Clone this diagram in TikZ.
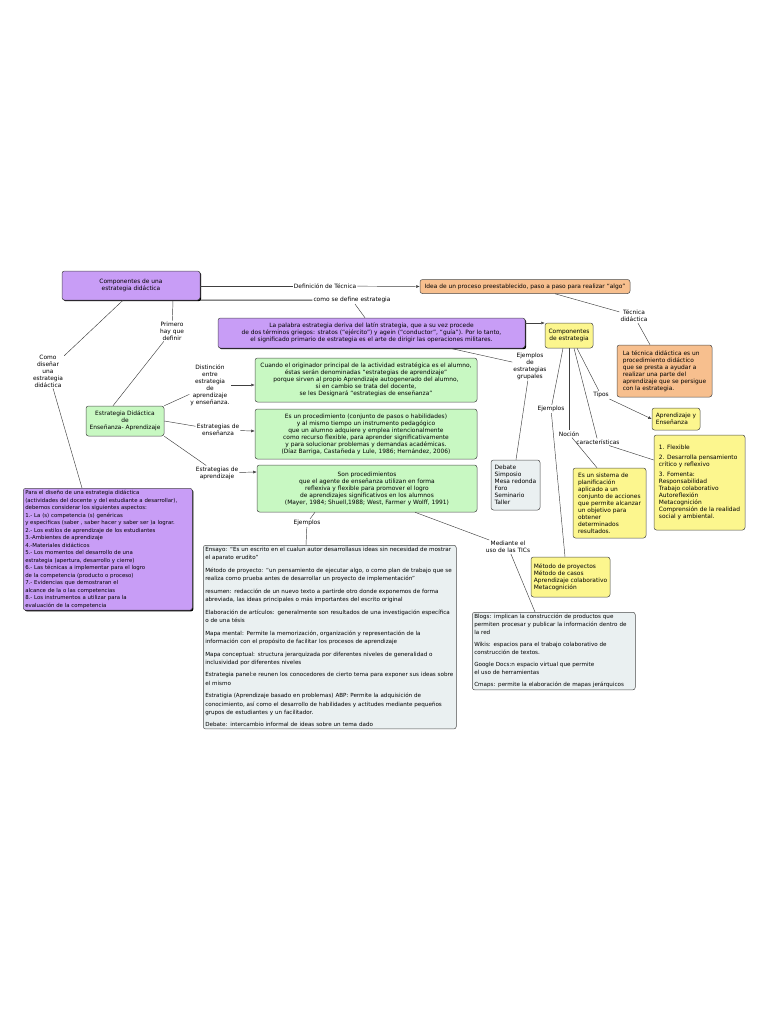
\documentclass[tikz,border=0pt]{standalone}
\usepackage{fontspec}
\setmainfont{DejaVu Sans}
\usetikzlibrary{arrows.meta,shadows}
\definecolor{cpur}{HTML}{C89DF6}
\definecolor{cgrn}{HTML}{C8F8C2}
\definecolor{cyel}{HTML}{FCF68E}
\definecolor{cora}{HTML}{F7BF8E}
\definecolor{cgry}{HTML}{EAF0F1}
\hyphenpenalty=10000 \exhyphenpenalty=10000
\begin{document}
\begin{tikzpicture}[x=1pt,y=-1pt,
  every node/.style={font=\fontsize{5.9}{7}\selectfont, inner sep=1pt},
  box/.style={draw=black!70, rounded corners=2.5pt, line width=0.5pt, align=center, inner sep=2pt},
  pur/.style={box, fill=cpur, drop shadow={shadow xshift=1.2pt,shadow yshift=-1.2pt,opacity=1,fill=black}},
  grn/.style={box, fill=cgrn},
  yel/.style={box, fill=cyel},
  ora/.style={box, fill=cora},
  gry/.style={box, fill=cgry},
  lab/.style={align=center, fill=white},
  ln/.style={draw=black!75, line width=0.45pt},
  ar/.style={ln, -{Latex[length=3.5pt,width=3pt]}}]
\useasboundingbox (0,0) rectangle (768,1024);

% nodes
\node[pur, minimum width=138pt, minimum height=29pt] (comp) at (131,285.5) {Componentes de una\\estrategia didáctica};
\node[ora, minimum width=210pt, minimum height=14pt] (idea) at (525,286.5) {Idea de un proceso preestablecido, paso a paso para realizar “algo”};
\node[lab] (deft) at (325,286) {Definición de Técnica};
\node[lab] (cdef) at (352,300) {como se define estrategia};
\node[pur, minimum width=307pt, minimum height=30pt] (pal) at (371.5,333) {La palabra estrategia deriva del latín strategia, que a su vez procede\\de dos términos griegos: stratos (“ejército”) y agein (“conductor”, “guía”). Por lo tanto,\\el significado primario de estrategia es el arte de dirigir las operaciones militares.};
\node[yel, minimum width=48pt, minimum height=25pt] (cest) at (569,335.5) {Componentes\\de estrategia};
\node[lab] (tecd) at (634,316) {Técnica\\didáctica};
\node[ora, minimum width=95pt, minimum height=52pt, align=left] (tdbox) at (664.5,371) {La técnica didáctica es un\\procedimiento didáctico\\que se presta a ayudar a\\realizar una parte del\\aprendizaje que se persigue\\ con la estrategia.};
\node[lab] (prim) at (172,331) {Primero\\hay que\\definir};
\node[lab] (como) at (48,371) {Como\\diseñar\\una\\estrategia\\didáctica};
\node[grn, minimum width=78pt, minimum height=30pt] (edid) at (125,421) {Estrategia Didáctica\\de\\Enseñanza- Aprendizaje};
\node[lab] (dist) at (210,385) {Distinción\\entre\\estrategia\\de\\aprendizaje\\y enseñanza.};
\node[grn, minimum width=222pt, minimum height=44pt] (g1) at (366,380) {Cuando el originador principal de la actividad estratégica es el alumno,\\éstas serán denominadas “estrategias de aprendizaje”\\porque sirven al propio Aprendizaje autogenerado del alumno,\\si en cambio se trata del docente,\\se les Designará “estrategias de enseñanza”};
\node[lab] (eens) at (218,430) {Estrategias de\\enseñanza};
\node[grn, minimum width=222pt, minimum height=50pt] (g2) at (366,434) {Es un procedimiento (conjunto de pasos o habilidades)\\y al mismo tiempo un instrumento pedagógico\\que un alumno adquiere y emplea intencionalmente\\como recurso flexible, para aprender significativamente\\y para solucionar problemas y demandas académicas.\\(Díaz Barriga, Castañeda y Lule, 1986; Hernández, 2006)};
\node[lab] (eapr) at (217,473) {Estrategias de\\aprendizaje};
\node[grn, minimum width=220pt, minimum height=47pt] (g3) at (367,488.5) {Son procedimientos\\que  el agente de enseñanza utilizan en forma\\reflexiva y flexible para promover el logro\\de aprendizajes significativos en los alumnos\\(Mayer, 1984; Shuell,1988; West, Farmer y Wolff, 1991)};
\node[pur, text width=165pt, align=left, anchor=north west, font=\fontsize{5.4}{7.5}\selectfont] (lista) at (23,488) {Para el diseño de una estrategia didáctica\\(actividades del docente y del estudiante a desarrollar),\\ debemos considerar los siguientes aspectos:\\1.- La (s)  competencia  (s)  genéricas\\ y especificas (saber , saber hacer y saber ser )a lograr.\\2.- Los estilos de aprendizaje de los estudiantes\\3.-Ambientes de aprendizaje\\4.-Materiales didácticos\\5.- Los momentos del desarrollo de una\\ estrategia (apertura, desarrollo y cierre)\\6.- Las técnicas a implementar para el logro\\de la competencia (producto o proceso)\\7.- Evidencias que demostraran el\\alcance de la o las competencias\\8.- Los instrumentos  a utilizar  para la\\evaluación de la competencia};
\node[lab] (ejm) at (307,523) {Ejemplos};
\node[gry, anchor=north west, text width=249pt, align=left, font=\fontsize{5.6}{8.2}\selectfont] (gbox) at (203,545) {Ensayo: “Es un escrito en el cualun autor desarrollasus ideas sin necesidad de mostrar el aparato erudito”\\[4.5pt]
Método de proyecto: “un pensamiento de ejecutar algo, o como  plan de trabajo que se realiza como prueba antes de desarrollar un proyecto de implementación”\\[4.5pt]
resumen: redacción de un nuevo texto a partirde otro donde exponemos de forma abreviada, las ideas principales o más importantes del escrito original\\[4.5pt]
Elaboración de artículos: generalmente son resultados de una investigación específica o de una tésis\\[4.5pt]
Mapa mental: Permite la memorización, organización y representación de la información con el propósito de facilitar los procesos de aprendizaje\\[4.5pt]
Mapa conceptual:  structura jerarquizada por diferentes niveles de generalidad o inclusividad por diferentes niveles\\[4.5pt]
Estrategia panel:e reunen los conocedores de cierto tema para exponer sus ideas sobre el mismo\\[4.5pt]
Estratigia (Aprendizaje basado en problemas) ABP: Permite la adquisición de conocimiento, así como el desarrollo de habilidades y actitudes mediante pequeños grupos de estudiantes y un facilitador.\\[4.5pt]
Debate:  intercambio informal de ideas sobre un tema dado};
\node[lab] (tics) at (508,547) {Mediante el\\uso de las TICs};
\node[gry, anchor=north west, text width=159pt, align=left, font=\fontsize{5.6}{8}\selectfont] (tbox) at (472,612) {Blogs: implican la construcción de productos que permiten procesar y publicar la información dentro de la red\\[4pt]
Wikis: espacios para el trabajo colaborativo de construcción de textos.\\[4pt]
Google Docs:n espacio virtual que permite\\el uso de herramientas\\[4pt]
Cmaps: permite la elaboración de mapas jerárquicos};
\node[lab] (ejg) at (530,366) {Ejemplos\\de\\estrategias\\grupales};
\node[gry, minimum width=49pt, minimum height=50pt, align=left] (deb) at (515.5,485) {Debate\\Simposio\\Mesa redonda\\Foro\\Seminario\\Taller};
\node[lab] (ejm2) at (551,409) {Ejemplos};
\node[lab] (noc) at (569,434) {Noción};
\node[lab] (tip) at (601,395) {Tipos};
\node[lab] (car) at (598,442) {características};
\node[yel, minimum width=48pt, minimum height=22pt, align=left] (ae) at (676,419) {Aprendizaje y\\Enseñanza};
\node[yel, minimum width=73pt, minimum height=70pt, align=left] (sist) at (609.5,503) {Es un sistema de\\planificación\\aplicado a un\\conjunto de acciones\\que permite alcanzar\\un objetivo para\\ obtener\\determinados\\ resultados.};
\node[yel, minimum width=91pt, minimum height=95pt, align=left] (flex) at (699.5,482.5) {1. Flexible\\[3pt]2. Desarrolla pensamiento\\ crítico y reflexivo\\[3pt]3. Fomenta:\\Responsabilidad\\Trabajo colaborativo\\Autoreflexión\\Metacognición\\Comprensión de la realidad\\ social y ambiental.};
\node[yel, minimum width=79pt, minimum height=40pt, align=left] (met) at (570.5,577) {Método de proyectos\\Método de casos\\Aprendizaje colaborativo\\Metacognición};

% connectors
\draw[ln] (comp.east |- 0,286) -- (deft);
\draw[ar] (deft) -- (idea.west);
\draw[ln, line width=1pt] (comp.south east) -- (cdef.west);
\draw[ln] (cdef) -- (pal.north -| 365,0);
\draw[ar] (pal.east |- 0,323) -- (cest.west |- 0,323);
\draw[ln] (idea.south -| 555,0) -- (tecd);
\draw[ln] (tecd) -- (tdbox.north -| 650,0);
\draw[ln] (comp.south -| 173,0) -- (prim);
\draw[ln] (prim) -- (edid.north -| 113,0);
\draw[ln] (comp.south -| 123,0) -- (como);
\draw[ln] (como) -- (lista.north -| 82,0);
\draw[ln] (edid.north east) -- (dist);
\draw[ar] (dist.east |- 0,385) -- (g1.west |- 0,385);
\draw[ln] (edid.east) -- (eens);
\draw[ar] (eens) -- (g2.west |- 0,431);
\draw[ln] (edid.south east) -- (eapr);
\draw[ar] (eapr) -- (g3.west |- 0,472);
\draw[ln] (g3.south -| 315,0) -- (ejm);
\draw[ln] (ejm) -- (gbox.north -| 306,0);
\draw[ln] (g3.south -| 415,0) -- (tics);
\draw[ln] (tics) -- (tbox.north -| 535,0);
\draw[ln] (pal.south -| 450,0) -- (ejg);
\draw[ln] (ejg) -- (deb.north -| 516,0);
\draw[ln] (cest.south -| 563,0) -- (ejm2);
\draw[ln] (ejm2) -- (met.north -| 565,0);
\draw[ln] (cest.south -| 569,0) -- (noc);
\draw[ln] (noc) -- (sist.north -| 597,0);
\draw[ln] (cest.south -| 577,0) -- (tip);
\draw[ar] (tip) -- (ae.west);
\draw[ln] (cest.south -| 574,0) -- (car);
\draw[ln] (car) -- (flex.west |- 0,460);
\end{tikzpicture}
\end{document}
